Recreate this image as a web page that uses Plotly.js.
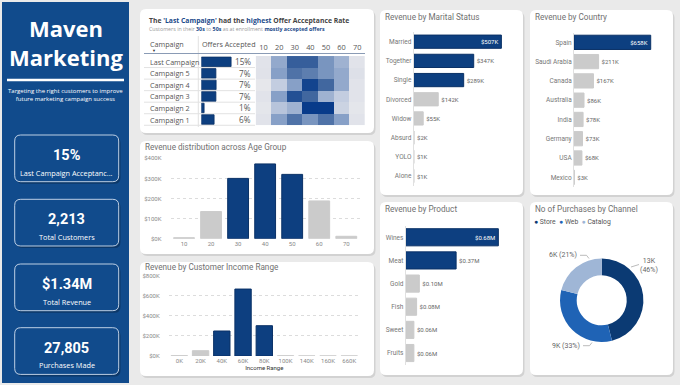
<!DOCTYPE html>
<html><head><meta charset="utf-8">
<script src="https://cdn.plot.ly/plotly-3.0.1.min.js"></script>
<style>html,body{margin:0;padding:0;background:#eaeaea}#chart{width:680px;height:385px}</style>
</head><body><div id="chart"></div>
<script>
// ---------------- DATA ----------------
const campaigns = ['Last Campaign','Campaign 5','Campaign 4','Campaign 3','Campaign 2','Campaign 1'];
const acceptRate = [0.149, 0.073, 0.074, 0.073, 0.014, 0.064];
const ageGroups = ['10','20','30','40','50','60','70'];
// relative acceptance intensity per campaign (rows) and age group (cols)
const acceptByAge = [
  [0.05, 0.45, 0.80, 0.80, 0.55, 0.40, 0.05],
  [0.06, 0.50, 0.70, 0.65, 0.55, 0.45, 0.08],
  [0.02, 0.25, 0.50, 0.95, 0.75, 0.45, 0.05],
  [0.05, 0.50, 0.88, 0.75, 0.40, 0.25, 0.05],
  [0.03, 0.30, 0.40, 1.00, 1.00, 0.20, 0.03],
  [0.05, 0.50, 0.70, 0.55, 0.70, 0.50, 0.05]
];
const ageRevenueK = [5, 135, 300, 372, 320, 188, 12];
const ageTicksK = [0, 100, 200, 300, 400];
const incomeRanges = ['0K','20K','40K','60K','80K','100K','140K','160K','660K'];
const incomeRevenueK = [3, 53, 249, 667, 302, 2, 1, 1, 1];
const incomeTicksK = [0, 200, 400, 600, 800];
const maritalStatus = ['Married','Together','Single','Divorced','Widow','Absurd','YOLO','Alone'];
const maritalRevenueK = [507, 347, 289, 142, 55, 2, 1, 1];
const countries = ['Spain','Saudi Arabia','Canada','Australia','India','Germany','USA','Mexico'];
const countryRevenueK = [658, 211, 167, 86, 78, 73, 68, 3];
const products = ['Wines','Meat','Gold','Fish','Sweet','Fruits'];
const productRevenueM = [0.68, 0.37, 0.10, 0.08, 0.06, 0.06];
const channels = ['Store','Web','Catalog'];
const channelPurchases = [12800, 9170, 5835];
const kpiValues = ['15%','2,213','$1.34M','27,805'];
const kpiLabels = ['Last Campaign Acceptanc...','Total Customers','Total Revenue','Purchases Made'];

// ---------------- HELPERS ----------------
const W = 680, H = 385;
const X = p => p / W;
const Y = p => 1 - p / H;
const BLUE = '#0d3f80', BLUE_LINE = '#0a3166', GRAY = '#cbcbcb', SIDEBAR = '#114b8c';
const PIE_COLORS = ['#0b3a73','#1f63b5','#9fb6d6'];
const rankColors = (vals, top) => {
  const thr = [...vals].sort((a,b)=>b-a)[top-1];
  return vals.map(v => v >= thr ? BLUE : GRAY);
};
const rankLines = (vals, top) => {
  const thr = [...vals].sort((a,b)=>b-a)[top-1];
  return vals.map(v => v >= thr ? BLUE_LINE : GRAY);
};
function rr(x0,y0,x1,y1,r){ // rounded rect path in paper coords from px
  const a=X(x0),b=X(x1),c=Y(y0),d=Y(y1),rx=r/W,ry=r/H;
  return `M${a+rx},${c} L${b-rx},${c} Q${b},${c} ${b},${c-ry} L${b},${d+ry} Q${b},${d} ${b-rx},${d} L${a+rx},${d} Q${a},${d} ${a},${d+ry} L${a},${c-ry} Q${a},${c} ${a+rx},${c} Z`;
}
const shapes = [];
const ann = [];
function panel(x0,y0,x1,y1){
  shapes.push({type:'path',xref:'paper',yref:'paper',path:rr(x0+1.5,y0+2,x1+1.5,y1+2,6),fillcolor:'rgba(0,0,0,0.10)',line:{width:0},layer:'below'});
  shapes.push({type:'path',xref:'paper',yref:'paper',path:rr(x0,y0,x1,y1,6),fillcolor:'#ffffff',line:{width:0},layer:'below'});
}
function txt(x,y,text,font,opts){
  ann.push(Object.assign({xref:'paper',yref:'paper',x:X(x),y:Y(y),text:text,showarrow:false,
    xanchor:'left',yanchor:'middle',font:font},opts||{}));
}
function seg(x0,y0,x1,y1,color,w){
  shapes.push({type:'line',xref:'paper',yref:'paper',x0:X(x0),x1:X(x1),y0:Y(y0),y1:Y(y1),line:{color:color,width:w}});
}
const TITLE_FONT = 'Roboto';

// ---------------- SIDEBAR ----------------
shapes.push({type:'rect',xref:'paper',yref:'paper',x0:X(2),x1:X(129),y0:Y(383),y1:Y(2),fillcolor:SIDEBAR,line:{width:0},layer:'below'});
shapes.push({type:'line',xref:'paper',yref:'paper',x0:X(7),x1:X(124),y0:Y(80),y1:Y(80),line:{color:'#ffffff',width:2.5},layer:'below'});
const bigF = {size:22,color:'#fff',family:'Open Sans'};
txt(65.5,28,'<b>Maven</b>',bigF,{xanchor:'center'});
txt(65.5,57,'<b>Marketing</b>',bigF,{xanchor:'center'});
txt(65.5,95,'Targeting the right customers to improve<br>future marketing campaign success',{size:6,color:'#fff',family:'Open Sans'},{xanchor:'center'});
const cardTops = [135, 199.3, 264, 327.7];
cardTops.forEach((t,i)=>{
  shapes.push({type:'path',xref:'paper',yref:'paper',path:rr(16.5,t+2,120.5,t+48.7,6),fillcolor:'rgba(0,0,0,0.25)',line:{width:0},layer:'below'});
  shapes.push({type:'path',xref:'paper',yref:'paper',path:rr(14.7,t,118.7,t+46.7,6),fillcolor:SIDEBAR,line:{color:'rgba(220,230,245,0.85)',width:1},layer:'below'});
  txt(66.7,t+20.5,'<b>'+kpiValues[i]+'</b>',{size:14.5,color:'#fff',family:'Roboto'},{xanchor:'center'});
  txt(66.7,t+37.5,kpiLabels[i],{size:7.3,color:'#fff',family:'Open Sans'},{xanchor:'center'});
});

// ---------------- PANELS ----------------
panel(140,9,374,133);
panel(140,141,374,254);
panel(140,262,374,376);
panel(380,10,523,195);
panel(530,10,673,195);
panel(380,202,523,375);
panel(530,202,673,375);

// titles
txt(147,20,"<b>The <span style='color:#1a4a8a'>'Last Campaign'</span> had the <span style='color:#1a4a8a'>highest</span> Offer Acceptance Rate</b>",{size:6.8,color:'#444',family:'Open Sans'});
txt(147,29.5,"Customers in their <b><span style='color:#1a4a8a'>30s</span></b> to <b><span style='color:#1a4a8a'>50s</span></b> as at enrollment <b><span style='color:#1a4a8a'>mostly accepted offers</span></b>",{size:5.3,color:'#999',family:'Open Sans'});
const tf = {size:8.2,color:'#707070',family:TITLE_FONT};
txt(143,147,'Revenue distribution across Age Group',tf);
txt(143,267,'Revenue by Customer Income Range',tf);
txt(383,17,'Revenue by Marital Status',tf);
txt(533,17,'Revenue by Country',tf);
txt(383,208.7,'Revenue by Product',tf);
txt(533,208.7,'No of Purchases by Channel',tf);
txt(532,222.3,channels.map((c,i)=>`<span style='color:${PIE_COLORS[i]}'>●</span> ${c}`).join('  '),{size:6.8,color:'#555',family:TITLE_FONT});

// ---------------- TABLE (campaigns) ----------------
const tfont = {size:7.2,color:'#555',family:'Open Sans'};
txt(148,44,'Campaign',tfont);
txt(150,50,'▼',{size:4,color:'#333'});
txt(199.5,44,'Offers Accepted',tfont);
seg(144,53.5,365,53.5,'#8a9bb5',1);
shapes.push({type:'line',xref:'paper',yref:'paper',x0:X(198.3),x1:X(198.3),y0:Y(36),y1:Y(127),line:{color:'#e2e2e2',width:1},layer:'below'});
campaigns.forEach((c,i)=>{
  if(i>0) shapes.push({type:'line',xref:'paper',yref:'y',x0:X(144),x1:X(255),y0:i-0.5,y1:i-0.5,line:{color:'#e2e2e2',width:1},layer:'below'});
  ann.push({xref:'paper',yref:'y',x:X(148),y:c,text:c,showarrow:false,xanchor:'left',yanchor:'middle',font:tfont});
  ann.push({xref:'paper',yref:'y',x:X(252.5),y:c,text:Math.round(acceptRate[i]*100)+'%',showarrow:false,xanchor:'right',yanchor:'middle',font:{size:8.2,color:'#555',family:'Open Sans'}});
});
shapes.push({type:'line',xref:'paper',yref:'y',x0:X(144),x1:X(255),y0:5.5,y1:5.5,line:{color:'#e2e2e2',width:1},layer:'below'});

const traces = [];
traces.push({type:'bar',orientation:'h',y:campaigns,x:acceptRate,xaxis:'x',yaxis:'y',
  marker:{color:BLUE,line:{color:BLUE_LINE,width:0.8}},width:0.82,hoverinfo:'skip'});
traces.push({type:'heatmap',x:ageGroups,y:campaigns,z:acceptByAge,xaxis:'x2',yaxis:'y',
  zmin:0,zmax:1,showscale:false,hoverinfo:'skip',
  colorscale:[[0,'#e9e9ec'],[0.25,'#c3cde0'],[0.5,'#87a0c7'],[0.75,'#41679f'],[1,'#083b8a']]});

// ---------------- AGE ----------------
traces.push({type:'bar',x:ageGroups,y:ageRevenueK,xaxis:'x3',yaxis:'y3',width:0.77,hoverinfo:'skip',
  marker:{color:rankColors(ageRevenueK,3),line:{color:rankLines(ageRevenueK,3),width:1}}});
// ---------------- INCOME ----------------
traces.push({type:'bar',x:incomeRanges,y:incomeRevenueK,xaxis:'x4',yaxis:'y4',width:0.77,hoverinfo:'skip',
  marker:{color:rankColors(incomeRevenueK,3),line:{color:rankLines(incomeRevenueK,3),width:1}}});
// ---------------- HORIZONTAL BARS ----------------
function hbar(cats, vals, top, ax, tmpl, w){
  const mx = Math.max(...vals);
  return {type:'bar',orientation:'h',y:cats,x:vals,xaxis:'x'+ax,yaxis:'y'+ax,hoverinfo:'skip',width:w,
    marker:{color:rankColors(vals,top),line:{color:rankLines(vals,top),width:1}},
    texttemplate:tmpl,textposition:vals.map(v=>v===mx?'inside':'outside'),insidetextanchor:'end',
    textangle:0,constraintext:'none',cliponaxis:false,
    insidetextfont:{size:6,color:'#ffffff',family:TITLE_FONT},outsidetextfont:{size:6,color:'#666',family:TITLE_FONT}};
}
traces.push(hbar(maritalStatus, maritalRevenueK, 3, 5, '$%{x}K', 0.69));
traces.push(hbar(countries, countryRevenueK, 1, 6, '$%{x}K', 0.74));
traces.push(hbar(products, productRevenueM, 2, 7, '$%{x:.2f}M', 0.74));

// ---------------- DONUT ----------------
const totalP = channelPurchases.reduce((a,b)=>a+b,0);
const pieText = channelPurchases.map(v=>[Math.round(v/1000)+'K','('+Math.round(v/totalP*100)+'%)']);
traces.push({type:'pie',labels:channels,values:channelPurchases,textinfo:'none',
  hole:0.6,sort:false,direction:'clockwise',rotation:0,
  marker:{colors:PIE_COLORS},
  domain:{x:[X(560),X(643.4)],y:[Y(342),Y(258.6)]},hoverinfo:'skip',showlegend:false});
// donut data labels (text from data) with leader lines
const pf = {size:7,color:'#666',family:TITLE_FONT};
txt(648.5,265.2,pieText[0][0]+'<br>'+pieText[0][1],pf,{xanchor:'center'});
seg(631,267,639,264.5,'#aaa',0.8);
txt(581.5,345.7,pieText[1].join(' '),pf,{xanchor:'right'});
seg(583,345.7,589.5,345.7,'#aaa',0.8); seg(589.5,345.7,592,342.5,'#aaa',0.8);
txt(578.5,255.3,pieText[2].join(' '),pf,{xanchor:'right'});
seg(580,255.3,586.5,255.3,'#aaa',0.8); seg(586.5,255.3,589,258.5,'#aaa',0.8);

// ---------------- AXES ----------------
const hidden = {visible:false,fixedrange:true};
const tick6 = {size:6,color:'#888',family:TITLE_FONT};
const catY = {type:'category',autorange:'reversed',showline:true,linecolor:'#e0e0e0',
    ticks:'',showgrid:false,tickfont:{size:6.5,color:'#777',family:TITLE_FONT}};
const layout = {
  width:W,height:H,margin:{l:0,r:0,t:0,b:0},paper_bgcolor:'#eaeaea',plot_bgcolor:'rgba(0,0,0,0)',
  showlegend:false,font:{family:'Open Sans'},
  xaxis:Object.assign({domain:[X(201.3),X(251.3)],range:[0,0.25],anchor:'y'},hidden),
  yaxis:{domain:[Y(127),Y(54.3)],type:'category',categoryarray:campaigns,autorange:'reversed',
    showticklabels:false,showgrid:false,zeroline:false,ticks:'',anchor:'x'},
  xaxis2:{domain:[X(255.7),X(365)],type:'category',side:'top',anchor:'y',showgrid:false,zeroline:false,
    ticks:'',tickfont:{size:7.4,color:'#555',family:'Open Sans'},ticklabelstandoff:2},
  xaxis3:{domain:[X(170.5),X(359.8)],type:'category',anchor:'y3',showgrid:false,zeroline:false,ticks:'',tickfont:tick6},
  yaxis3:{domain:[Y(238.7),Y(158.3)],range:[0,400],anchor:'x3',tickvals:ageTicksK,ticktext:ageTicksK.map(v=>'$'+v+'K'),
    gridcolor:'#dcdcdc',griddash:'dot',zeroline:false,tickfont:tick6,ticklabelstandoff:8},
  xaxis4:{domain:[X(168.7),X(359.9)],type:'category',anchor:'y4',showgrid:false,zeroline:false,ticks:'',tickfont:tick6,
    title:{text:'Income Range',font:{size:6,color:'#333',family:TITLE_FONT},standoff:2}},
  yaxis4:{domain:[Y(356),Y(275.7)],range:[0,800],anchor:'x4',tickvals:incomeTicksK,ticktext:incomeTicksK.map(v=>'$'+v+'K'),
    gridcolor:'#dcdcdc',griddash:'dot',zeroline:false,tickfont:tick6,ticklabelstandoff:8},
  xaxis5:Object.assign({domain:[X(413.7),X(514)],range:[0,580],anchor:'y5'},hidden),
  yaxis5:Object.assign({domain:[Y(185.6),Y(32.1)],anchor:'x5'},catY),
  xaxis6:Object.assign({domain:[X(574),X(662.6)],range:[0,760],anchor:'y6'},hidden),
  yaxis6:Object.assign({domain:[Y(186.9),Y(32.7)],anchor:'x6'},catY),
  xaxis7:Object.assign({domain:[X(405.7),X(514.7)],range:[0,0.8],anchor:'y7'},hidden),
  yaxis7:Object.assign({domain:[Y(364.6),Y(225.7)],anchor:'x7'},catY),
  shapes:shapes,annotations:ann
};
Plotly.newPlot('chart',traces,layout,{staticPlot:true,displayModeBar:false});
</script></body></html>
